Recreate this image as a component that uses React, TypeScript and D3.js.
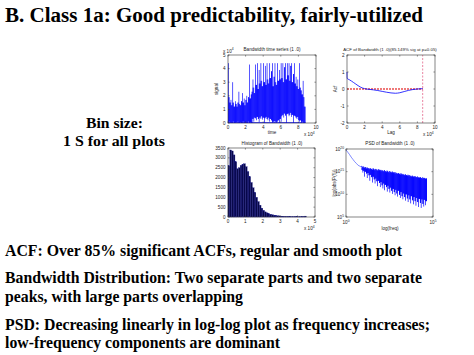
import React from 'react';
import * as d3 from 'd3';

// ---------- data ----------
// Bandwidth time series (x10^4), 0.1 (x10^4 s) per sample column
const tsStep = 0.1;
const tsHigh = [4.4,1.9,1.5,1.7,1.3,3.0,1.5,1.2,1.6,1.4,1.2,1.5,2.3,1.4,1.3,1.6,2.2,1.5,1.8,1.3,1.7,2.0,1.5,1.9,4.3,1.8,2.1,2.3,3.2,2.6,2.2,4.3,2.8,4.4,2.5,3.9,2.9,4.4,3.1,2.7,4.4,3.0,4.2,2.8,4.4,3.2,2.9,4.4,3.3,3.8,4.4,2.7,3.4,4.4,3.0,2.8,4.4,3.1,3.9,3.2,4.4,3.3,4.4,3.0,4.1,4.4,3.2,4.4,3.5,4.4,3.1,4.2,4.4,3.0,3.6,4.4,2.9,3.4,2.7,3.2,2.5,4.4,2.6,2.4,2.1,3.1,1.9,1.2];
const tsLow = [0,0.1,0,0.05,0,0,0.1,0,0,0.05,0,0.1,0,0,0.05,0,0,0.1,0,0,0.05,0,0,0.1,0,0.05,0,0,0.3,0.1,0.4,0.35,0.2,0.45,0.3,0.05,0.4,0.3,0.5,0.25,0.4,0.0,0.35,0.45,0.3,0.2,0.4,0.1,0.3,0.2,0.0,0.1,0,0.15,0.05,0,0.1,0.2,0,0.3,0.1,0.5,0.6,0.4,0.7,0.55,0.0,0.65,0.7,0.5,0.6,0.75,0.45,0.6,0.0,0.55,0.5,0.4,0.3,0.45,0.2,0.1,0.2,0,0.1,0.05,0,0];
const tsXTicks = [0, 2, 4, 6, 8, 10];
const tsYTicks = [0, 1, 2, 3, 4, 5];

// ACF
const acfLag = [0,0.02,0.25,0.5,0.75,1.0,1.25,1.5,1.75,2.0,2.5,3.0,3.5,4.0,4.5,5.0,5.5,6.0,6.5,7.0,7.5,8.0,8.6];
const acfVal = [1.0,0.62,0.55,0.47,0.38,0.29,0.2,0.12,0.06,0.02,-0.02,-0.05,-0.09,-0.14,-0.19,-0.23,-0.25,-0.22,-0.15,-0.08,-0.03,0.0,0.02];
const acfCutoff = 8.6;
const acfBound = 0.012;
const acfXTicks = [0, 2, 4, 6, 8, 10];
const acfYTicks = [-2, -1, 0, 1, 2];

// Histogram (bin width 0.1 x10^4)
const histBin = 0.1;
const histCounts = [2600,3400,3350,3150,2800,2450,2500,2620,2680,2700,2550,2300,2050,1750,1480,1250,1000,780,600,450,340,260,210,170,140,115,95,80,65,55,45,38,32,28,24,20,18,16,14,13,12,14,18,30,45];
const histXTicks = [0, 1, 2, 3, 4, 5];
const histYTicks = [0, 500, 1000, 1500, 2000, 2500, 3000, 3500];

// PSD (log10 values)
const psdHeadLogF = [0,0.1,0.2,0.3,0.4,0.5,0.6,0.7,0.8,0.85];
const psdHeadLogP = [19.8,19.3,18.8,18.2,17.7,17.2,16.8,16.4,16.2,16.1];
const psdLogF = [0.90,0.95,1.00,1.05,1.10,1.15,1.20,1.25,1.30,1.35,1.40,1.45,1.50,1.55,1.60,1.65,1.70,1.75,1.80,1.85,1.90,1.95,2.00,2.05,2.10,2.15,2.20,2.25,2.30,2.35,2.40,2.45,2.50,2.55,2.60,2.65,2.70,2.75,2.80,2.85,2.90,2.95,3.00,3.05,3.10,3.15,3.20,3.25,3.30,3.35,3.40,3.45,3.50,3.55,3.60,3.65,3.70,3.75,3.80,3.85,3.90,3.95,4.00,4.05,4.10,4.15,4.20,4.25,4.30,4.35,4.40,4.45,4.50,4.55,4.60];
const psdHigh = [16.2,15.9,16.1,15.8,16.0,15.7,15.9,15.6,15.8,15.5,15.7,15.6,15.4,15.7,15.5,15.3,15.6,15.4,15.2,15.5,15.3,15.4,15.1,15.3,15.2,15.0,15.3,15.1,14.9,15.2,15.0,14.8,15.1,14.9,14.8,15.0,14.7,14.9,14.6,14.8,14.6,14.5,14.7,14.5,14.4,14.6,14.3,14.5,14.3,14.2,14.4,14.2,14.1,14.3,14.0,14.2,14.0,13.9,14.1,13.9,13.8,14.0,13.8,13.7,13.9,13.7,13.6,13.8,13.6,13.5,13.7,13.5,13.6,13.4,13.5];
const psdLow = [15.4,14.8,15.2,13.9,15.0,14.6,13.6,14.7,14.2,13.0,14.3,13.8,12.6,13.9,13.3,12.4,13.5,12.9,11.8,13.0,12.5,11.6,12.7,12.0,11.3,12.4,10.9,12.1,11.6,10.6,11.9,11.2,10.4,11.5,10.8,10.1,11.2,10.5,9.8,11.0,10.2,9.5,10.8,9.9,9.2,10.5,9.6,8.9,10.2,9.4,8.6,10.0,9.1,8.3,9.8,8.9,8.0,9.6,8.7,7.8,9.4,8.5,7.5,9.2,8.3,7.2,9.0,8.1,7.0,8.9,7.9,7.3,8.8,7.6,8.5];
const psdXTickExp = [0, 5];
const psdYTickExp = [5, 10, 15, 20];

const bodyLines = [
  { text: 'ACF: Over 85% significant ACFs, regular and smooth plot', y: 256, w: 397 },
  { text: 'Bandwidth Distribution: Two separate parts and two separate', y: 283, w: 417 },
  { text: 'peaks, with large parts overlapping', y: 302, w: 238 },
  { text: 'PSD: Decreasing linearly in log-log plot as frequency increases;', y: 330, w: 425 },
  { text: 'low-frequency components are dominant', y: 348, w: 275 },
];

const SANS = 'Liberation Sans, Arial, Helvetica, sans-serif';
const SERIF = "'Times New Roman', Times, 'Liberation Serif', 'Nimbus Roman', 'Noto Serif', 'DejaVu Serif', serif";
const FS = 4.6;

const Pow = ({ x, y, base, exp, anchor = 'start', size = FS }: any) => (
  <text x={x} y={y} fontSize={size} textAnchor={anchor} style={{ fontFamily: SANS }} fill="#222">
    {base}
    <tspan dy={-size * 0.45} fontSize={size * 0.72}>{exp}</tspan>
  </text>
);

const Box = ({ x0, x1, y0, y1 }: any) => (
  <rect x={x0} y={y0} width={x1 - x0} height={y1 - y0} fill="none" stroke="#333" strokeWidth={0.6} />
);

function TickMarks({ xs, ys, xt, yt }: any) {
  const [x0, x1] = xs.range();
  const [y0, y1] = ys.range();
  const L = 1.6;
  return (
    <g stroke="#333" strokeWidth={0.5}>
      {xt.map((t: number, i: number) => (
        <g key={'x' + i}>
          <line x1={xs(t)} x2={xs(t)} y1={y0} y2={y0 - L} />
          <line x1={xs(t)} x2={xs(t)} y1={y1} y2={y1 + L} />
        </g>
      ))}
      {yt.map((t: number, i: number) => (
        <g key={'y' + i}>
          <line x1={x0} x2={x0 + L} y1={ys(t)} y2={ys(t)} />
          <line x1={x1} x2={x1 - L} y1={ys(t)} y2={ys(t)} />
        </g>
      ))}
    </g>
  );
}

const sm = (extra: any = {}) => ({ fontSize: FS, fill: '#222', style: { fontFamily: SANS }, ...extra });

export default function App() {
  // ---- time series ----
  const tx = d3.scaleLinear().domain([0, 10]).range([228, 316]);
  const ty = d3.scaleLinear().domain([0, 5]).range([123, 55]);
  const colW = tx(tsStep) - tx(0);

  // ---- ACF ----
  const ax = d3.scaleLinear().domain([0, 10]).range([347, 435]);
  const ay = d3.scaleLinear().domain([-2, 2]).range([123, 55]);
  const acfLine = d3.line<number>().x((_, i) => ax(acfLag[i])).y((v) => ay(v)).curve(d3.curveMonotoneX)(acfVal) || '';

  // ---- Histogram ----
  const hx = d3.scaleLinear().domain([0, 5]).range([228, 315]);
  const hy = d3.scaleLinear().domain([0, 3500]).range([217, 148]);

  // ---- PSD ----
  const px = d3.scaleLog().domain([1, 1e5]).range([346, 433]);
  const py = d3.scaleLog().domain([1e5, 1e20]).range([217, 149]);
  const p10 = (v: number) => Math.pow(10, v);
  let psdHead = '';
  psdHeadLogF.forEach((f, i) => {
    psdHead += (i ? 'L' : 'M') + px(p10(f)) + ',' + py(p10(psdHeadLogP[i]));
  });
  let psdTop = 'M' + px(p10(psdHeadLogF[psdHeadLogF.length - 1])) + ',' + py(p10(psdHeadLogP[psdHeadLogP.length - 1]));
  psdLogF.forEach((f, i) => {
    psdTop += 'L' + px(p10(f)) + ',' + py(p10(psdHigh[i]));
  });
  const psdCol = px(p10(0.05)) - px(1);

  return (
    <svg width={474} height={355} style={{ position: 'absolute', left: 0, top: 0, background: '#fff' }}>
      <rect width={474} height={355} fill="#fff" />
      <g style={{ fontFamily: SERIF, fontWeight: 'bold' }} fill="#000">
        <text x={5} y={22} fontSize={20} textLength={418} lengthAdjust="spacingAndGlyphs">B. Class 1a: Good predictability, fairly-utilized</text>
        <text x={86} y={128} fontSize={15.5} textLength={57} lengthAdjust="spacingAndGlyphs">Bin size:</text>
        <text x={63} y={146} fontSize={15.5} textLength={102} lengthAdjust="spacingAndGlyphs">1 S for all plots</text>
        {bodyLines.map((l, i) => (
          <text key={i} x={5} y={l.y} fontSize={16} textLength={l.w} lengthAdjust="spacingAndGlyphs">{l.text}</text>
        ))}
      </g>

      {/* ===== Plot 1: time series ===== */}
      <g>
        {tsHigh.map((h, i) => (
          <rect key={i} x={tx(i * tsStep)} y={ty(h)} width={colW * 0.75} height={ty(tsLow[i]) - ty(h)} fill="#0000ff" />
        ))}
        {tsHigh.map((h, i) => {
          const j = Math.min(i + 1, tsHigh.length - 1);
          const top = Math.min(h, tsHigh[j]);
          const bot = Math.max(tsLow[i], tsLow[j]);
          return <rect key={'m' + i} x={tx(i * tsStep)} y={ty(top)} width={colW} height={ty(bot) - ty(top)} fill="#0000ff" opacity={0.85} />;
        })}
        <line x1={tx(0)} x2={tx(tsHigh.length * tsStep)} y1={ty(0) - 0.4} y2={ty(0) - 0.4} stroke="#0000ff" strokeWidth={0.8} />
        <Box x0={228} x1={316} y0={55} y1={123} />
        <TickMarks xs={tx} ys={ty} xt={tsXTicks} yt={tsYTicks} />
        {tsYTicks.map((t) => (
          <text key={t} x={225.5} y={ty(t) + 1.6} textAnchor="end" {...sm()}>{t}</text>
        ))}
        {tsXTicks.map((t) => (
          <text key={t} x={tx(t)} y={129} textAnchor="middle" {...sm()}>{t}</text>
        ))}
        <Pow x={223} y={52.5} base="x 10" exp="4" />
        <Pow x={304} y={136} base="x 10" exp="4" />
        <text x={272} y={51} textAnchor="middle" {...sm()}>Bandwidth time series (1 .0)</text>
        <text x={272} y={134} textAnchor="middle" {...sm()}>time</text>
        <text transform="translate(218,89) rotate(-90)" textAnchor="middle" {...sm()}>signal</text>
      </g>

      {/* ===== Plot 2: ACF ===== */}
      <g>
        <line x1={ax(0)} x2={ax(acfCutoff)} y1={ay(acfBound)} y2={ay(acfBound)} stroke="#e00000" strokeWidth={0.6} strokeDasharray="2,1" />
        <line x1={ax(0)} x2={ax(acfCutoff)} y1={ay(-acfBound)} y2={ay(-acfBound)} stroke="#e00000" strokeWidth={0.6} strokeDasharray="2,1" />
        <path d={acfLine} fill="none" stroke="#0000ff" strokeWidth={0.8} />
        <line x1={ax(acfCutoff)} x2={ax(acfCutoff)} y1={ay(-2)} y2={ay(2)} stroke="#e0507a" strokeWidth={0.7} strokeDasharray="2,1.5" />
        <Box x0={347} x1={435} y0={55} y1={123} />
        <TickMarks xs={ax} ys={ay} xt={acfXTicks} yt={acfYTicks} />
        {acfYTicks.map((t) => (
          <text key={t} x={344.5} y={ay(t) + 1.6} textAnchor="end" {...sm()}>{t}</text>
        ))}
        {acfXTicks.map((t) => (
          <text key={t} x={ax(t)} y={129} textAnchor="middle" {...sm()}>{t}</text>
        ))}
        <Pow x={423} y={136} base="x 10" exp="4" />
        <text x={390} y={51} textAnchor="middle" {...sm({ fontSize: 4.4 })}>ACF of Bandwidth (1 .0)(85.149% sig at p=0.05)</text>
        <text x={391} y={134} textAnchor="middle" {...sm()}>Lag</text>
        <text transform="translate(337,89) rotate(-90)" textAnchor="middle" {...sm()}>Acf</text>
      </g>

      {/* ===== Plot 3: Histogram ===== */}
      <g>
        {histCounts.map((c, i) => (
          <rect key={i} x={hx(i * histBin)} y={hy(c)} width={hx(histBin) - hx(0)} height={hy(0) - hy(c)} fill="#08084a" stroke="#1a1a90" strokeWidth={0.3} />
        ))}
        <Box x0={228} x1={315} y0={148} y1={217} />
        <TickMarks xs={hx} ys={hy} xt={histXTicks} yt={histYTicks} />
        {histYTicks.map((t) => (
          <text key={t} x={225.5} y={hy(t) + 1.6} textAnchor="end" {...sm()}>{t}</text>
        ))}
        {histXTicks.map((t) => (
          <text key={t} x={hx(t)} y={223} textAnchor="middle" {...sm()}>{t}</text>
        ))}
        <Pow x={304} y={230} base="x 10" exp="4" />
        <text x={272} y={145} textAnchor="middle" {...sm()}>Histogram of Bandwidth (1 .0)</text>
      </g>

      {/* ===== Plot 4: PSD ===== */}
      <g>
        <path d={psdHead} fill="none" stroke="#2a3cff" strokeWidth={0.6} />
        {psdLogF.map((f, i) => (
          <rect key={i} x={px(p10(f))} y={py(p10(psdHigh[i]))} width={psdCol * 0.8} height={py(p10(psdLow[i])) - py(p10(psdHigh[i]))} fill="#0000ff" />
        ))}
        {psdLogF.map((f, i) => {
          const j = Math.min(i + 1, psdLogF.length - 1);
          const top = Math.min(psdHigh[i], psdHigh[j]);
          const bot = Math.max(psdLow[i], psdLow[j]);
          return <rect key={'m' + i} x={px(p10(f))} y={py(p10(top))} width={psdCol} height={Math.max(0, py(p10(bot)) - py(p10(top)))} fill="#0000ff" />;
        })}
        <path d={psdTop} fill="none" stroke="#0000ff" strokeWidth={0.6} />
        <Box x0={346} x1={433} y0={149} y1={217} />
        <TickMarks xs={px} ys={py} xt={psdXTickExp.map((e) => p10(e))} yt={psdYTickExp.map((e) => p10(e))} />
        {psdYTickExp.map((e) => (
          <Pow key={e} x={344} y={py(p10(e)) + 1.6} base="10" exp={String(e)} anchor="end" />
        ))}
        {psdXTickExp.map((e) => (
          <Pow key={e} x={px(p10(e))} y={224} base="10" exp={String(e)} anchor="middle" />
        ))}
        <text x={390} y={145} textAnchor="middle" {...sm()}>PSD of Bandwidth (1 .0)</text>
        <text x={390} y={230} textAnchor="middle" {...sm()}>log(freq)</text>
        <text transform="translate(336,183) rotate(-90)" textAnchor="middle" {...sm()}>log(abs(P(f)))</text>
      </g>
    </svg>
  );
}
